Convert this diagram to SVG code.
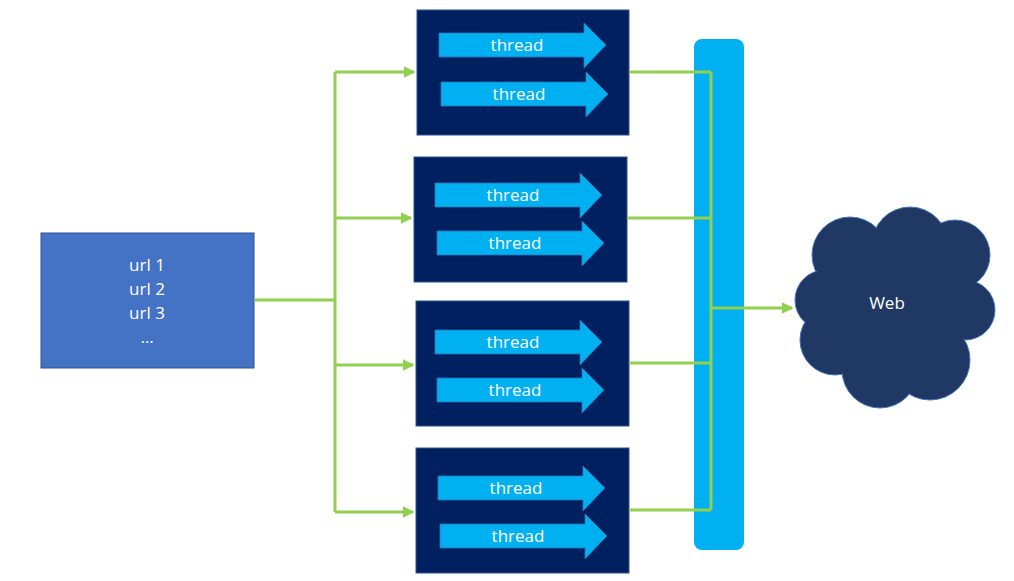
<svg xmlns="http://www.w3.org/2000/svg" width="1014" height="581" viewBox="0 0 1014 581">
<style>
.box{fill:#002060;stroke:#2F528F;stroke-width:1}
.arr{fill:#00B0F0;stroke:#2F75B5;stroke-width:0.8}
.t{font-family:"Open Sans","Liberation Sans",sans-serif;font-size:17px;fill:#fff;text-anchor:middle}
.g{stroke:#92D050;stroke-width:3;fill:none}
.c{fill:#203864;stroke:#4472C4;stroke-width:1}
.ci{fill:#203864}
</style>
<defs>
<marker id="ah" markerWidth="4" markerHeight="4" refX="3.5" refY="2" orient="auto" markerUnits="strokeWidth"><path d="M0,0 L4,2 L0,4 Z" fill="#92D050"/></marker>
<g id="a"><path class="arr" d="M0,0 H145 V-10 L167,12 L145,35 V24 H0 Z"/><text class="t" x="78" y="18">thread</text></g>
</defs>
<g id="src"><rect x="41" y="233" width="213" height="135" fill="#4472C4" stroke="#2F528F"/>
<text class="t" x="147" y="271" font-family="Calibri,Carlito,'Liberation Sans',sans-serif">url 1</text>
<text class="t" x="147" y="295">url 2</text>
<text class="t" x="147" y="319">url 3</text>
<text class="t" x="147" y="343">…</text></g>
<g id="bus"><rect x="694" y="39" width="50" height="511" rx="8" fill="#00B0F0"/></g>
<g id="w1"><rect class="box" x="417" y="10" width="212" height="125"/><use href="#a" x="439" y="33"/><use href="#a" x="441" y="82"/></g>
<g id="w2"><rect class="box" x="414" y="157" width="213" height="125"/><use href="#a" x="435" y="183"/><use href="#a" x="437" y="231"/></g>
<g id="w3"><rect class="box" x="416" y="301" width="213" height="125"/><use href="#a" x="435" y="330"/><use href="#a" x="437" y="378"/></g>
<g id="w4"><rect class="box" x="416" y="448" width="213" height="125"/><use href="#a" x="438" y="476"/><use href="#a" x="440" y="524"/></g>
<g id="web">
<circle class="c" cx="850" cy="255" r="38"/><circle class="c" cx="910" cy="245" r="38"/><circle class="c" cx="955" cy="255" r="35"/>
<circle class="c" cx="965" cy="310" r="30"/><circle class="c" cx="930" cy="360" r="40"/><circle class="c" cx="880" cy="370" r="38"/>
<circle class="c" cx="835" cy="340" r="35"/><circle class="c" cx="825" cy="300" r="30"/>
<circle class="ci" cx="850" cy="255" r="37"/><circle class="ci" cx="910" cy="245" r="37"/><circle class="ci" cx="955" cy="255" r="34"/>
<circle class="ci" cx="965" cy="310" r="29"/><circle class="ci" cx="930" cy="360" r="39"/><circle class="ci" cx="880" cy="370" r="37"/>
<circle class="ci" cx="835" cy="340" r="34"/><circle class="ci" cx="825" cy="300" r="29"/><circle class="ci" cx="895" cy="305" r="60"/>
<text class="t" x="887" y="309">Web</text></g>
<g id="connectors">
<path class="g" d="M255,300 H335 M335,72 V512"/>
<path class="g" marker-end="url(#ah)" d="M335,72 H414"/>
<path class="g" marker-end="url(#ah)" d="M335,218 H411"/>
<path class="g" marker-end="url(#ah)" d="M335,365 H413"/>
<path class="g" marker-end="url(#ah)" d="M335,512 H413"/>
<path class="g" d="M629,72 H711 M627,218 H711 M629,363 H711 M629,510 H711 M711,72 V510"/>
<path class="g" marker-end="url(#ah)" d="M711,308 H792"/>
</g>
</svg>
